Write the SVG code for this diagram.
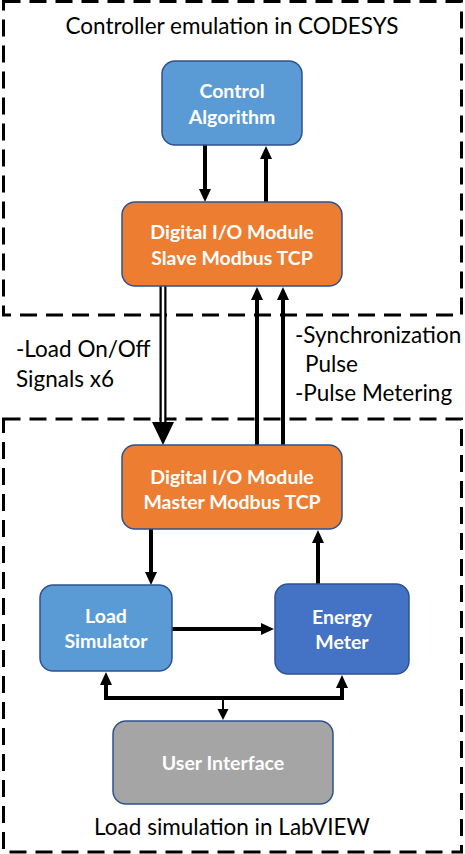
<svg xmlns="http://www.w3.org/2000/svg" width="465" height="854" viewBox="0 0 465 854">
<style>
.frame{fill:none;stroke:#000;stroke-width:3;stroke-dasharray:17 9}
.box{stroke:#2F528F;stroke-width:1.5}
.orange{fill:#ED7D31}
.lblue{fill:#5B9BD5}
.dblue{fill:#4472C4}
.gray{fill:#A5A5A5}
.bt{font-family:Lato,"Liberation Sans",sans-serif;font-weight:bold;font-size:19.5px;fill:#fff;text-anchor:middle}
.lt{font-family:Lato,"Liberation Sans",sans-serif;font-size:22.5px;fill:#000}
.conn{stroke:#000;stroke-width:4;fill:none}
</style>
<defs>
<marker id="ah" markerUnits="userSpaceOnUse" viewBox="0 -6 13 12" refX="1" refY="0" markerWidth="13" markerHeight="12" orient="auto-start-reverse" overflow="visible"><path d="M0,-6 L13,0 L0,6 z" fill="#000"/></marker>
<marker id="ahs" markerUnits="userSpaceOnUse" viewBox="0 -5.5 11 11" refX="1" refY="0" markerWidth="11" markerHeight="11" orient="auto" overflow="visible"><path d="M0,-5.5 L11,0 L0,5.5 z" fill="#000"/></marker>
</defs>
<g id="frame-codesys">
<rect class="frame" x="3.5" y="1.5" width="458" height="313.5"/>
<text class="lt" x="232" y="34" text-anchor="middle">Controller emulation in CODESYS</text>
</g>
<g id="frame-labview">
<rect class="frame" x="3.5" y="419" width="458" height="433"/>
<text class="lt" x="232" y="835" text-anchor="middle">Load simulation in LabVIEW</text>
</g>
<g id="connectors">
<line class="conn" x1="205" y1="145" x2="205" y2="190" marker-end="url(#ah)"/>
<line class="conn" x1="266" y1="202" x2="266" y2="158" marker-end="url(#ah)"/>
<line x1="163" y1="286" x2="163" y2="423" stroke="#000" stroke-width="7"/>
<line x1="163" y1="286" x2="163" y2="423" stroke="#fff" stroke-width="2.5"/>
<polygon points="152,422 174,422 163,445" fill="#000"/>
<line class="conn" x1="257" y1="447" x2="257" y2="299" marker-end="url(#ah)"/>
<line class="conn" x1="283" y1="447" x2="283" y2="299" marker-end="url(#ah)"/>
<line class="conn" x1="151" y1="529" x2="151" y2="573" marker-end="url(#ah)"/>
<line class="conn" x1="318" y1="585" x2="318" y2="542" marker-end="url(#ah)"/>
<line class="conn" x1="172" y1="629" x2="262" y2="629" marker-end="url(#ah)"/>
<path class="conn" d="M106,684 V698 H342 V687" marker-start="url(#ah)" marker-end="url(#ah)"/>
<line x1="223" y1="698" x2="223" y2="710" stroke="#000" stroke-width="2" marker-end="url(#ahs)"/>
<text class="lt" x="16" y="357">-Load On/Off</text>
<text class="lt" x="16" y="387">Signals x6</text>
<text class="lt" x="295" y="343">-Synchronization</text>
<text class="lt" x="305" y="372">Pulse</text>
<text class="lt" x="295" y="401">-Pulse Metering</text>
</g>
<g id="control-algorithm">
<rect class="box lblue" x="162" y="61" width="140" height="84" rx="13"/>
<text class="bt" x="232" y="98">Control</text>
<text class="bt" x="232" y="124">Algorithm</text>
</g>
<g id="slave-module">
<rect class="box orange" x="122" y="202" width="220" height="84" rx="13"/>
<text class="bt" x="232" y="239">Digital I/O Module</text>
<text class="bt" x="232" y="265">Slave Modbus TCP</text>
</g>
<g id="master-module">
<rect class="box orange" x="122" y="445" width="220" height="84" rx="13"/>
<text class="bt" x="232" y="484">Digital I/O Module</text>
<text class="bt" x="232" y="509">Master Modbus TCP</text>
</g>
<g id="load-simulator">
<rect class="box lblue" x="40" y="585" width="132" height="86" rx="13"/>
<text class="bt" x="106" y="623">Load</text>
<text class="bt" x="106" y="648">Simulator</text>
</g>
<g id="energy-meter">
<rect class="box dblue" x="275" y="584" width="134" height="90" rx="13"/>
<text class="bt" x="342" y="624">Energy</text>
<text class="bt" x="342" y="649">Meter</text>
</g>
<g id="user-interface">
<rect class="box gray" x="113" y="721" width="220" height="83" rx="13"/>
<text class="bt" x="223" y="770" fill="#F2F2F2">User Interface</text>
</g>
</svg>
